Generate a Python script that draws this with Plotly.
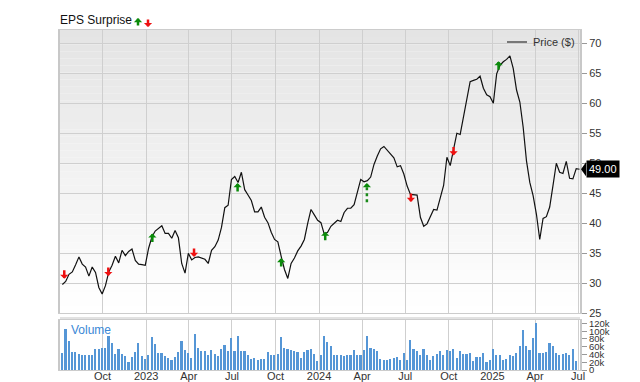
import plotly.graph_objects as go
import pandas as pd

# ---------------- data ----------------
week_dates = pd.date_range("2022-07-08", periods=157, freq="W-FRI")

price = [29.8, 30.3, 31.5, 31.9, 33.1, 34.4, 33.2, 32.7, 31.2, 32.7,
         31.8, 29.3, 28.2, 29.6, 31.9, 33.0, 34.5, 33.4, 35.5, 34.6,
         35.3, 35.7, 33.8, 33.2, 33.1, 33.0, 35.8, 37.7, 38.7, 39.1,
         39.6, 38.3, 38.3, 37.5, 38.8, 37.6, 33.3, 31.7, 35.0, 33.9,
         34.3, 34.4, 34.2, 34.0, 33.3, 35.5, 36.1, 37.2, 39.3, 42.6,
         43.0, 47.3, 47.8, 46.8, 48.5, 45.6, 44.7, 43.8, 41.9, 41.9,
         42.7, 41.0, 40.1, 38.5, 37.3, 36.9, 34.5, 32.3, 30.8, 33.3,
         34.2, 35.4, 36.2, 37.3, 40.0, 42.3, 41.4, 40.5, 40.1, 38.2,
         38.5, 39.5, 40.0, 40.5, 40.3, 41.8, 42.5, 42.5, 43.1, 45.0,
         47.3, 46.9, 47.1, 47.7, 49.8, 51.2, 52.4, 52.8, 52.2, 51.5,
         50.9, 49.4, 49.6, 48.2, 46.2, 44.8, 44.8, 44.7, 41.0, 39.5,
         39.9, 41.1, 42.3, 42.2, 44.3, 46.3, 51.0, 49.6, 52.3, 55.0,
         54.8, 57.7, 60.7, 63.6, 63.8, 64.0, 64.5, 62.5, 61.4, 61.1,
         60.0, 64.9, 66.3, 66.9, 67.3, 67.9, 65.8, 62.2, 60.2, 56.0,
         50.4, 46.8, 44.6, 41.5, 37.3, 40.8, 41.1, 42.7, 46.3, 50.0,
         48.5, 48.3, 50.3, 47.5, 47.4, 49.1, 49.0]

volume_k = [45, 105, 74, 46, 46, 42, 40, 38, 40, 38,
            53, 53, 56, 57, 89, 69, 42, 53, 42, 35,
            20, 33, 46, 70, 35, 29, 38, 85, 66, 45,
            45, 36, 31, 27, 33, 46, 75, 51, 44, 32,
            93, 57, 48, 49, 40, 51, 42, 35, 53, 65,
            48, 82, 48, 87, 49, 48, 38, 29, 31, 27,
            29, 29, 46, 39, 40, 42, 85, 57, 53, 51,
            49, 46, 32, 46, 51, 55, 42, 22, 40, 87,
            71,
            63, 38, 38, 38, 35, 38, 39, 52, 39, 39,
            52, 89, 58, 53, 48, 29, 27, 27, 28, 32,
            33, 25, 44, 27, 78, 53, 50, 40, 55, 38,
            27, 35, 42, 49, 40, 51, 49, 53, 30, 48,
            42, 42, 44, 22, 33, 33, 44, 21, 27, 55,
            40, 38, 25, 29, 40, 36, 44, 61, 102, 61,
            51, 83, 121, 45, 45, 46, 69, 63, 44, 38,
            42, 44, 39, 55, 22]

eps_up_dates = ["2023-01-14", "2023-07-13", "2023-10-13", "2024-01-14", "2025-01-14"]
eps_up_prices = [38.3, 46.7, 34.2, 38.6, 67.0]
eps_up_dashed_dates = ["2024-04-11"]
eps_up_dashed_prices = [46.7]
eps_up_dashed_stem_low = [43.5]
eps_down_dates = ["2022-07-12", "2022-10-13", "2023-04-12", "2024-07-13", "2024-10-11"]
eps_down_prices = [30.75, 31.2, 34.4, 43.55, 51.3]

x_tick_dates = ["2022-10-01", "2023-01-01", "2023-04-01", "2023-07-01", "2023-10-01",
                "2024-01-01", "2024-04-01", "2024-07-01", "2024-10-01", "2025-01-01",
                "2025-04-01", "2025-07-01"]
x_tick_labels = ["Oct", "2023", "Apr", "Jul", "Oct", "2024", "Apr", "Jul", "Oct",
                 "2025", "Apr", "Jul"]
price_ticks = [25, 30, 35, 40, 45, 50, 55, 60, 65, 70]
vol_tick_vals = [0, 20, 40, 60, 80, 100, 120]
vol_tick_text = ["0", "20k", "40k", "60k", "80k", "100k", "120k"]
last_price = 49.00

# ---------------- figure ----------------
# the page body has an 8px margin, so the figure is 8px smaller and shifted
FONT = "Arial, Liberation Sans, sans-serif"
GRID = "#cfcfcf"
fig = go.Figure()

fig.add_trace(go.Scatter(x=week_dates, y=price, mode="lines",
                         line=dict(color="#111111", width=1.2),
                         xaxis="x", yaxis="y", showlegend=False, hoverinfo="skip"))

fig.add_trace(go.Bar(x=week_dates[:len(volume_k)], y=volume_k,
                     marker=dict(color="#5596d6", line=dict(width=0)),
                     width=3.5 * 24 * 3600 * 1000,
                     xaxis="x2", yaxis="y2", showlegend=False, hoverinfo="skip"))

x_range = ["2022-07-03", "2025-07-05"]
price_bottom = (370 - 313.3) / 340
vol_top = (370 - 320) / 340

fig.update_layout(
    width=632, height=374,
    margin=dict(l=52, r=60, t=22, b=12, autoexpand=False),
    paper_bgcolor="white", plot_bgcolor="rgba(0,0,0,0)",
    font=dict(family=FONT, size=11, color="#333333"),
    bargap=0,
    xaxis=dict(domain=[0, 1], anchor="y", range=x_range, type="date",
               tickvals=x_tick_dates, showticklabels=False, showgrid=True,
               gridcolor=GRID, gridwidth=1, showline=True, mirror=True,
               linecolor="#cccccc", linewidth=1, zeroline=False, ticks=""),
    yaxis=dict(domain=[price_bottom, 1], anchor="x", side="right",
               range=[25, 72.2], tickvals=price_ticks, showgrid=True,
               gridcolor=GRID, gridwidth=1, ticks="outside", ticklen=5,
               tickcolor="#999999", showline=True, mirror=True,
               linecolor="#c8c8c8", linewidth=2, zeroline=False,
               tickfont=dict(size=11, color="#333333")),
    xaxis2=dict(domain=[0, 1], anchor="y2", range=x_range, type="date",
                matches="x", tickvals=x_tick_dates, ticktext=x_tick_labels,
                showgrid=True, gridcolor=GRID, gridwidth=1, ticks="",
                ticklabelstandoff=-4,
                showline=True, mirror=True, linecolor="#cccccc", linewidth=1,
                zeroline=False, tickfont=dict(size=11, color="#333333")),
    yaxis2=dict(domain=[0, vol_top], anchor="x2", side="right", range=[0, 129],
                tickvals=vol_tick_vals, ticktext=vol_tick_text, showgrid=False,
                ticks="outside", ticklen=5, tickcolor="#999999", showline=True,
                mirror=True, linecolor="#c8c8c8", linewidth=2, zeroline=False,
                tickfont=dict(size=9.5, color="#333333")),
)

shapes = []
# gradient background of the price panel
n_bands = 40
for i in range(n_bands):
    t = i / (n_bands - 1)
    c = int(round(0xe4 + (0xff - 0xe4) * t))
    y1 = 1 - (1 - price_bottom) * i / n_bands
    y0 = 1 - (1 - price_bottom) * (i + 1) / n_bands
    shapes.append(dict(type="rect", xref="paper", yref="paper", x0=0, x1=1,
                       y0=y0, y1=y1, fillcolor=f"rgb({c},{c},{c})",
                       line=dict(width=0), layer="below"))
# separator band between panels
shapes.append(dict(type="rect", xref="paper", yref="paper", x0=0, x1=1,
                   y0=vol_top, y1=(370 - 317) / 340, fillcolor="#e2e2e2",
                   line=dict(width=0), layer="below"))
# legend sample line
shapes.append(dict(type="line", xref="paper", yref="paper",
                   x0=(507 - 60) / 520, x1=(527 - 60) / 520,
                   y0=(370 - 42) / 340, y1=(370 - 42) / 340,
                   line=dict(color="#777777", width=2)))
# price tag pointer
shapes.append(dict(type="path", xref="paper", yref="y", xsizemode="pixel",
                   ysizemode="pixel", xanchor=1, yanchor=last_price,
                   path="M 1 0 L 6 7 L 6 -7 Z", fillcolor="black",
                   line=dict(width=0)))
# dashed stem for the dashed EPS arrow
for d, lo, hi in zip(eps_up_dashed_dates, eps_up_dashed_stem_low, eps_up_dashed_prices):
    shapes.append(dict(type="line", xref="x", yref="y", x0=d, x1=d, y0=lo, y1=hi - 0.6,
                       line=dict(color="#1a8a1a", width=2.5, dash="dot")))
fig.update_layout(shapes=shapes)

ARROW = dict(showarrow=True, text="", arrowhead=1, arrowsize=0.55, arrowwidth=2.5,
             standoff=0, startstandoff=0, ax=0)
ann = []
for d, p in zip(eps_up_dates, eps_up_prices):
    ann.append(dict(x=d, y=p, xref="x", yref="y", ay=10, arrowcolor="#0a8a0a", **ARROW))
for d, p in zip(eps_up_dashed_dates, eps_up_dashed_prices):
    ann.append(dict(x=d, y=p, xref="x", yref="y", ay=5, arrowcolor="#0a8a0a", **ARROW))
for d, p in zip(eps_down_dates, eps_down_prices):
    ann.append(dict(x=d, y=p, xref="x", yref="y", ay=-10, arrowcolor="#ee1111", **ARROW))
# title
ann.append(dict(x=0, y=1, xref="paper", yref="paper", xanchor="left", yanchor="bottom",
                xshift=-2, yshift=1, text="EPS Surprise", showarrow=False,
                font=dict(family=FONT, size=12, color="#111111")))
ann.append(dict(x=(138 - 60) / 520, y=(370 - 18) / 340, xref="paper", yref="paper",
                ay=9, arrowcolor="#0a8a0a", **ARROW))
ann.append(dict(x=(148 - 60) / 520, y=(370 - 27) / 340, xref="paper", yref="paper",
                ay=-9, arrowcolor="#ee1111", **ARROW))
# legend text
ann.append(dict(x=(531 - 60) / 520, y=(370 - 42) / 340, xref="paper", yref="paper",
                xanchor="left", yanchor="middle", text="Price ($)", showarrow=False,
                font=dict(family=FONT, size=11, color="#333333")))
# volume label
ann.append(dict(x=(69 - 60) / 520, y=(370 - 330) / 340, xref="paper", yref="paper",
                xanchor="left", yanchor="middle", text="Volume", showarrow=False,
                font=dict(family=FONT, size=12, color="#3a88d6")))
# price tag
ann.append(dict(x=1, y=last_price, xref="paper", yref="y", xanchor="left",
                yanchor="middle", xshift=6, text=f"{last_price:.2f}", showarrow=False,
                bgcolor="black", borderpad=2,
                font=dict(family=FONT, size=11, color="white")))
fig.update_layout(annotations=ann)

fig.write_html("out.html")
